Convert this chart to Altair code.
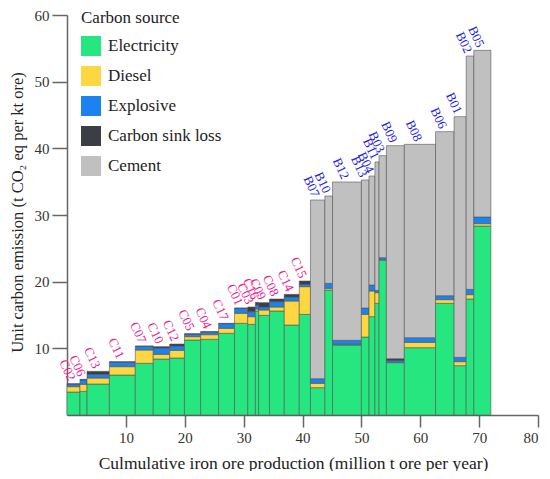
import altair as alt
import pandas as pd

sites = ["C02", "C06", "C13", "C11", "C07", "C10", "C12", "C05", "C04", "C17",
         "C01", "C03", "C16", "C09", "C08", "C14", "C15",
         "B07", "B10", "B12", "B13", "B04", "B11", "B03", "B09", "B08", "B06",
         "B01", "B02", "B05"]
# annual iron ore production of each mine (million t ore per year)
production = [2.2, 1.2, 3.8, 4.4, 3.05, 2.8, 2.5, 2.75, 3.05, 2.7,
              2.25, 1.3, 0.55, 1.85, 2.5, 2.55, 1.9,
              2.45, 1.3, 4.9, 1.3, 1.0, 0.7, 1.25, 3.05, 5.3, 3.15,
              2.05, 1.3, 2.9]
electricity = [3.45, 3.55, 4.65, 6.0, 7.75, 8.4, 8.55, 11.25, 11.35, 12.25,
               13.75, 13.6, 15.6, 14.95, 15.6, 13.5, 15.1,
               4.1, 18.75, 10.5, 11.7, 14.75, 16.75, 23.2, 7.85, 10.1, 16.75,
               7.4, 17.4, 28.35]
diesel = [0.8, 1.05, 0.9, 1.25, 2.0, 0.7, 1.15, 0.5, 0.7, 0.75,
          1.5, 1.15, 0.3, 0.8, 0.6, 3.6, 4.15,
          0.65, 0.25, 0.1, 3.4, 3.85, 1.6, 0.1, 0.0, 0.8, 0.55,
          0.6, 0.65, 0.35]
explosive = [0.35, 0.65, 0.55, 0.65, 0.55, 0.95, 0.65, 0.35, 0.4, 0.7,
             0.75, 0.75, 0.6, 0.45, 0.8, 0.6, 0.35,
             0.7, 0.75, 0.6, 0.95, 0.9, 0.35, 0.3, 0.3, 0.7, 0.6,
             0.65, 0.8, 1.0]
sink_loss = [0.1, 0.1, 0.45, 0.1, 0.05, 0.2, 0.3, 0.1, 0.05, 0.05,
             0.05, 0.7, 0.4, 0.65, 0.4, 0.4, 0.5,
             0.0, 0.0, 0.0, 0.0, 0.0, 0.0, 0.0, 0.3, 0.0, 0.0,
             0.0, 0.0, 0.0]
cement = [0.0, 0.0, 0.0, 0.0, 0.0, 0.0, 0.0, 0.0, 0.0, 0.0,
          0.0, 0.0, 0.0, 0.0, 0.0, 0.0, 0.0,
          26.8, 13.1, 23.75, 19.2, 16.35, 19.25, 15.3, 31.95, 29.0, 24.6,
          36.1, 35.0, 25.0]

sources = ["Electricity", "Diesel", "Explosive", "Carbon sink loss", "Cement"]
source_colors = ["#26E680", "#FDD742", "#1B82F0", "#3C3E45", "#C0C0C0"]
x_ticks = [10, 20, 30, 40, 50, 60, 70, 80]
y_ticks = [10, 20, 30, 40, 50, 60]

series = [electricity, diesel, explosive, sink_loss, cement]

seg_rows = []
lab_rows = []
x_start = 0.0
for i, s in enumerate(sites):
    x_end = x_start + production[i]
    base = 0.0
    for src, vals in zip(sources, series):
        v = vals[i]
        if v > 0:
            seg_rows.append({"site": s, "source": src, "x0": x_start, "x1": x_end,
                             "y0": base, "y1": base + v})
            base += v
    lab_rows.append({"site": s, "xc": (x_start + x_end) / 2, "top": base,
                     "lc": "#EC1A8C" if s.startswith("C") else "#1A1AEE"})
    x_start = x_end

seg_df = pd.DataFrame(seg_rows)
lab_df = pd.DataFrame(lab_rows)

FONT = "Liberation Serif"
x_title = "Culmulative iron ore production (million t ore per year)"
y_title = "Unit carbon emission (t CO\u2082 eq per kt ore)"

x_axis = alt.Axis(values=x_ticks, grid=False, domainColor="#666", domainWidth=1.5,
                  tickColor="#666", tickWidth=1.5, tickSize=12, labelPadding=3,
                  labelFont=FONT, labelFontSize=15, labelColor="#333",
                  titleFont=FONT, titleFontSize=17.5, titleFontWeight="normal",
                  titleColor="#222", titleX=226, titleY=53, titleAlign="center",
                  titleBaseline="alphabetic")
y_axis = alt.Axis(values=y_ticks, grid=False, domainColor="#666", domainWidth=1.5,
                  tickColor="#666", tickWidth=1.5, tickSize=15, labelPadding=3,
                  labelFont=FONT, labelFontSize=15, labelColor="#333",
                  titleFont=FONT, titleFontSize=16.5, titleFontWeight="normal",
                  titleColor="#222", titleX=-45, titleY=197, titleAlign="center",
                  titleBaseline="alphabetic", titleAngle=270)

x_scale = alt.Scale(domain=[0, 80], nice=False, zero=True)
y_scale = alt.Scale(domain=[0, 60], nice=False, zero=True)

bars = alt.Chart(seg_df).mark_rect(stroke="#555", strokeWidth=0.7, strokeOpacity=0.85).encode(
    x=alt.X("x0:Q", scale=x_scale, axis=x_axis, title=x_title),
    x2="x1:Q",
    y=alt.Y("y0:Q", scale=y_scale, axis=y_axis, title=y_title),
    y2="y1:Q",
    color=alt.Color("source:N", scale=alt.Scale(domain=sources, range=source_colors),
                    legend=alt.Legend(title="Carbon source", orient="none",
                                      legendX=14, legendY=-5, direction="vertical",
                                      titleFont=FONT, titleFontSize=17,
                                      titleFontWeight="normal", titleColor="#222",
                                      titlePadding=9,
                                      labelFont=FONT, labelFontSize=17, labelColor="#222",
                                      labelOffset=7, symbolType="square", symbolSize=400,
                                      symbolStrokeWidth=0, symbolOpacity=1,
                                      rowPadding=10, padding=0)),
)

labels = alt.Chart(lab_df).mark_text(angle=65, align="right", baseline="middle", dx=-4,
                                     font=FONT, fontSize=13).encode(
    x=alt.X("xc:Q", scale=x_scale, axis=x_axis, title=x_title),
    y=alt.Y("top:Q", scale=y_scale, axis=y_axis, title=y_title),
    text="site:N",
    color=alt.Color("lc:N", scale=None),
)

chart = alt.layer(bars, labels).properties(
    width=471, height=400,
    autosize=alt.AutoSizeParams(type="none"),
    padding={"left": 59, "top": 7, "right": 4, "bottom": 56},
).configure(font=FONT).configure_view(stroke=None).configure_axis(
    labelFont=FONT, titleFont=FONT
).configure_legend(labelFont=FONT, titleFont=FONT).configure_text(font=FONT)

chart.save("out.html", embed_options={"renderer": "svg", "actions": False})
